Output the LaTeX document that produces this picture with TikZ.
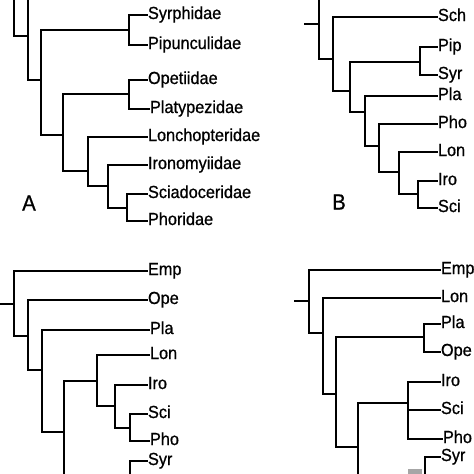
\documentclass[tikz,border=0pt]{standalone}
\usepackage{fontspec}
\setmainfont{Liberation Sans}
\newfontfamily\taxfont[FakeBold=0.8, FakeStretch=0.93]{Liberation Sans}
\begin{document}
\begin{tikzpicture}[x=1pt, y=-1pt, line join=miter, line cap=rect,
	branch/.style={line width=1.5pt},
	taxon/.style={anchor=west, inner sep=1pt, outer sep=0pt, text height=0.8em, text depth=0pt, font=\taxfont\fontsize{17.5}{19}\selectfont},
	panel/.style={font=\taxfont\fontsize{22}{24}\selectfont}]
	\useasboundingbox (0,0) rectangle (474,474);
	\clip (0,0) rectangle (474,474);
	% A
	\node[taxon] (syrA) at (147,15) {Syrphidae};
	\node[taxon] (pipA) at (147,45) {Pipunculidae};
	\node[taxon] (opeA) at (147,80) {Opetiidae};
	\node[taxon] (plaA) at (149,109) {Platypezidae};
	\node[taxon] (lonA) at (147,137) {Lonchopteridae};
	\node[taxon] (iroA) at (147,165) {Ironomyiidae};
	\node[taxon] (sciA) at (147,194) {Sciadoceridae};
	\node[taxon] (phoA) at (147,221) {Phoridae};
	\coordinate (a0up) at (14,-10);
	\coordinate (a1up) at (28,-10);
	\coordinate (a1) at (28,36);
	\coordinate (a2) at (41,80);
	\coordinate (a3) at (129,30);
	\coordinate (a4) at (63,135);
	\coordinate (a5) at (129,94);
	\coordinate (a6) at (88,171);
	\coordinate (a7) at (108,186);
	\coordinate (a8) at (127,208);
	\draw[branch] (a0up) |- (a1);
	\draw[branch] (a1up) -| (a1) |- (a2);
	\draw[branch] (a3) -| (a2) |- (a4);
	\draw[branch] (syrA.west) -| (a3) |- (pipA.west);
	\draw[branch] (a5) -| (a4) |- (a6);
	\draw[branch] (opeA.west) -| (a5) |- (plaA.west);
	\draw[branch] (lonA.west) -| (a6) |- (a7);
	\draw[branch] (iroA.west) -| (a7) |- (a8);
	\draw[branch] (sciA.west) -| (a8) |- (phoA.west);
	\node[panel] (labA) at (29,203) {A};
	% B
	\node[taxon] (schB) at (437,17) {Sch};
	\node[taxon] (pipB) at (437,47) {Pip};
	\node[taxon] (syrB) at (437,75) {Syr};
	\node[taxon] (plaB) at (437,96) {Pla};
	\node[taxon] (phoB) at (437,124) {Pho};
	\node[taxon] (lonB) at (437,152) {Lon};
	\node[taxon] (iroB) at (437,181) {Iro};
	\node[taxon] (sciB) at (437,208) {Sci};
	\coordinate (rootB) at (305,24);
	\coordinate (b0up) at (319,-10);
	\coordinate (b0) at (319,24);
	\coordinate (b1) at (333,59);
	\coordinate (b2) at (350,91);
	\coordinate (b3) at (420,62);
	\coordinate (b4) at (365,112);
	\coordinate (b5) at (379,146);
	\coordinate (b6) at (399,172);
	\coordinate (b7) at (418,194);
	\draw[branch] (rootB) -- (b0);
	\draw[branch] (b0up) -| (b0) |- (b1);
	\draw[branch] (schB.west) -| (b1) |- (b2);
	\draw[branch] (b3) -| (b2) |- (b4);
	\draw[branch] (pipB.west) -| (b3) |- (syrB.west);
	\draw[branch] (plaB.west) -| (b4) |- (b5);
	\draw[branch] (phoB.west) -| (b5) |- (b6);
	\draw[branch] (lonB.west) -| (b6) |- (b7);
	\draw[branch] (iroB.west) -| (b7) |- (sciB.west);
	\node[panel] (labB) at (339,202) {B};
	% C
	\node[taxon] (empC) at (147,271) {Emp};
	\node[taxon] (opeC) at (147,300) {Ope};
	\node[taxon] (plaC) at (149,330) {Pla};
	\node[taxon] (lonC) at (149,355) {Lon};
	\node[taxon] (iroC) at (147,385) {Iro};
	\node[taxon] (sciC) at (147,414) {Sci};
	\node[taxon] (phoC) at (149,441) {Pho};
	\node[taxon] (syrC) at (147,461) {Syr};
	\coordinate (rootC) at (0,304);
	\coordinate (c0) at (14,304);
	\coordinate (c1) at (28,336);
	\coordinate (c2) at (42,370);
	\coordinate (c3) at (64,432);
	\coordinate (c3down) at (64,490);
	\coordinate (c4) at (97,381);
	\coordinate (c5) at (115,406);
	\coordinate (c6) at (130,428);
	\coordinate (c7down) at (130,490);
	\draw[branch] (rootC) -- (c0);
	\draw[branch] (empC.west) -| (c0) |- (c1);
	\draw[branch] (opeC.west) -| (c1) |- (c2);
	\draw[branch] (plaC.west) -| (c2) |- (c3);
	\draw[branch] (c4) -| (c3) |- (c3down);
	\draw[branch] (lonC.west) -| (c4) |- (c5);
	\draw[branch] (iroC.west) -| (c5) |- (c6);
	\draw[branch] (sciC.west) -| (c6) |- (phoC.west);
	\draw[branch] (syrC.west) -| (c7down);
	% D
	\node[taxon] (empD) at (440,270) {Emp};
	\node[taxon] (lonD) at (440,298) {Lon};
	\node[taxon] (plaD) at (440,324) {Pla};
	\node[taxon] (opeD) at (440,352) {Ope};
	\node[taxon] (iroD) at (440,382) {Iro};
	\node[taxon] (sciD) at (440,410) {Sci};
	\node[taxon] (phoD) at (442,439) {Pho};
	\node[taxon] (syrD) at (440,457) {Syr};
	\coordinate (rootD) at (295,301);
	\coordinate (d0) at (309,301);
	\coordinate (d1) at (323,333);
	\coordinate (d2) at (336,394);
	\coordinate (d3) at (424,337);
	\coordinate (d4) at (358,447);
	\coordinate (d4down) at (358,490);
	\coordinate (d5) at (408,403);
	\coordinate (d6down) at (425,490);
	\draw[branch] (rootD) -- (d0);
	\draw[branch] (empD.west) -| (d0) |- (d1);
	\draw[branch] (lonD.west) -| (d1) |- (d2);
	\draw[branch] (d3) -| (d2) |- (d4);
	\draw[branch] (plaD.west) -| (d3) |- (opeD.west);
	\draw[branch] (d5) -| (d4) |- (d4down);
	\draw[branch] (iroD.west) -| (d5) |- (phoD.west);
	\draw[branch] (d5 |- sciD.west) -- (sciD.west);
	\draw[branch] (syrD.west) -| (d6down);
	\fill[gray!70] (408,469) rectangle (422,480);
\end{tikzpicture}
\end{document}
